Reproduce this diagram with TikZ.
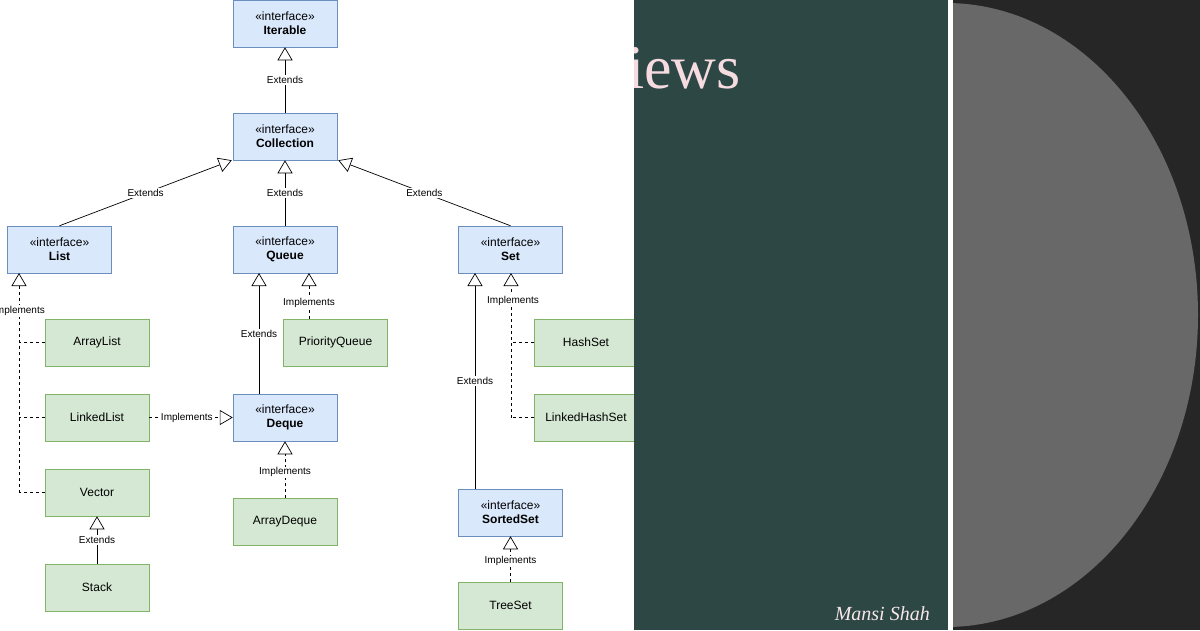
\documentclass[tikz,border=0pt]{standalone}
\usepackage{fontspec}
\setmainfont{Liberation Sans}
\newfontfamily\serifx{Liberation Serif}
\usetikzlibrary{arrows.meta}
\definecolor{ifill}{HTML}{DAE8FC}\definecolor{iline}{HTML}{6C8EBF}
\definecolor{cfill}{HTML}{D5E8D4}\definecolor{cline}{HTML}{82B366}
\definecolor{panel}{HTML}{2C4744}\definecolor{dark}{HTML}{262626}
\definecolor{disc}{HTML}{686868}\definecolor{pinkt}{HTML}{F6DCE0}
\begin{document}
\begin{tikzpicture}[x=1pt,y=-1pt,
 box/.style={draw,minimum width=104pt,minimum height=47pt,inner sep=0pt,align=center,font=\fontsize{12}{14}\selectfont,line width=0.5pt},
 iface/.style={box,fill=ifill,draw=iline},
 cls/.style={box,fill=cfill,draw=cline},
 lbl/.style={fill=white,inner sep=1pt,font=\fontsize{10}{12}\selectfont},
 tri/.style={-{Triangle[open,length=13pt,width=15pt,fill=white]},line width=0.7pt},
 ext/.style={tri},
 imp/.style={tri,dashed,dash pattern=on 3pt off 3pt}]
\useasboundingbox (0,0) rectangle (1200,630);
\fill[white] (0,0) rectangle (634,630);
\node[iface] (it) at (285,23.5) {«interface»\\\textbf{Iterable}};
\node[iface] (co) at (285,136.5) {«interface»\\\textbf{Collection}};
\node[iface] (li) at (59.5,249.5) {«interface»\\\textbf{List}};
\node[iface] (qu) at (285,249.5) {«interface»\\\textbf{Queue}};
\node[iface] (se) at (510.5,249.5) {«interface»\\\textbf{Set}};
\node[cls] (al) at (97,342.5) {ArrayList};
\node[cls] (pq) at (335.5,342.5) {PriorityQueue};
\node[cls] (hs) at (586,342.5) {HashSet};
\node[cls] (ll) at (97,417.5) {LinkedList};
\node[iface] (dq) at (285,417.5) {«interface»\\\textbf{Deque}};
\node[cls] (lh) at (586,417.5) {LinkedHashSet};
\node[cls] (ve) at (97,492.5) {Vector};
\node[cls] (ad) at (285,521.5) {ArrayDeque};
\node[iface] (ss) at (510.5,512.5) {«interface»\\\textbf{SortedSet}};
\node[cls] (st) at (97,587.5) {Stack};
\node[cls] (ts) at (510.5,605.5) {TreeSet};
% extends
\draw[ext] (co.north) -- node[lbl]{Extends} (it.south);
\draw[ext] (li.north) -- node[lbl,pos=0.5]{Extends} ([xshift=-1pt]co.south west);
\draw[ext] (qu.north) -- node[lbl]{Extends} (co.south);
\draw[ext] (se.north) -- node[lbl]{Extends} ([xshift=1pt]co.south east);
\coordinate (dqt) at (259,394); \coordinate (qub) at (259,273);
\draw[ext] (dqt) -- node[lbl]{Extends} (qub);
\coordinate (sst) at (475,489); \coordinate (seb) at (475,273);
\draw[ext] (sst) -- node[lbl]{Extends} (seb);
\draw[ext] (st.north) -- node[lbl]{Extends} (ve.south);
% implements
\coordinate (lib) at (19,273); \coordinate (vl) at (19,492.5);
\coordinate (alj) at (19,342.5); \coordinate (llj) at (19,417.5);
\draw[dashed,dash pattern=on 3pt off 3pt,line width=0.7pt] (ve.west) -- (vl);
\draw[dashed,dash pattern=on 3pt off 3pt,line width=0.7pt] (al.west) -- (alj);
\draw[dashed,dash pattern=on 3pt off 3pt,line width=0.7pt] (ll.west) -- (llj);
\draw[imp] (vl) -- (lib);
\node[lbl] (iml) at (19,311) {Implements};
\coordinate (pqt) at (309,319); \coordinate (qub2) at (309,273);
\draw[imp] (pqt) -- node[lbl,pos=0.35]{Implements} (qub2);
\draw[imp] (ll.east) -- node[lbl,pos=0.45]{Implements} (dq.west);
\draw[imp] (ad.north) -- node[lbl,pos=0.45]{Implements} (dq.south);
\coordinate (seb2) at (511,273); \coordinate (hj) at (511,342.5); \coordinate (lj) at (511,417.5);
\draw[dashed,dash pattern=on 3pt off 3pt,line width=0.7pt] (hs.west) -- (hj);
\draw[dashed,dash pattern=on 3pt off 3pt,line width=0.7pt] (lh.west) -- (lj);
\draw[imp] (lj) -- (seb2);
\node[lbl] (ims) at (513,301) {Implements};
\draw[imp] (ts.north) -- node[lbl,pos=0.45]{Implements} (ss.south);
% panels
\fill[panel] (634,0) rectangle (948,630);
\fill[white] (948,0) rectangle (953,630);
\fill[dark] (953,0) rectangle (1200,630);
\begin{scope}
\clip (953,0) rectangle (1200,630);
\fill[disc] (946,315) ellipse [x radius=252pt, y radius=312pt];
\end{scope}
\begin{scope}
\clip (634,0) rectangle (948,630);
\node[anchor=base west,text=pinkt,font=\serifx\fontsize{62}{66}\selectfont,inner sep=0pt] (ti) at (627,88) {iews};
\end{scope}
\node[anchor=base east,text=pinkt!70!white,font=\serifx\itshape\fontsize{20}{22}\selectfont,inner sep=0pt] (au) at (930,620) {Mansi Shah};
\end{tikzpicture}
\end{document}
